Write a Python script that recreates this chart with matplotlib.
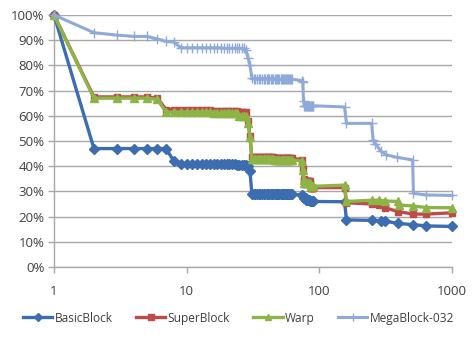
import matplotlib
matplotlib.use('Agg')
import matplotlib.pyplot as plt
from matplotlib.ticker import FuncFormatter, NullLocator

plt.rcParams['font.family'] = ['Open Sans', 'DejaVu Sans']

# ---------------- data ----------------
SERIES_NAMES = ['BasicBlock', 'SuperBlock', 'Warp', 'MegaBlock-032']
X_TICKS = [1, 10, 100, 1000]
X_TICK_LABELS = ['1', '10', '100', '1000']
Y_TICKS = [0, 10, 20, 30, 40, 50, 60, 70, 80, 90, 100]

# integer sample points (dense region)
X_DENSE = list(range(1, 63)) + list(range(74, 91))

BASIC_DENSE = [100,
               47, 47, 47, 47, 47, 47,
               42,
               41, 41, 41, 41, 41, 41, 40.8, 40.8, 40.8, 40.8, 40.8, 40.8, 40.7, 40.7, 40.7, 40.6, 40.6, 40.6, 40.5,
               40.5, 40, 38,
               29, 29, 29, 29, 29, 29, 29, 29, 29, 29, 29, 29, 29, 29, 29, 29,
               28.9, 28.9, 28.9, 28.9, 28.9, 28.9, 28.9, 28.9, 28.9, 28.9, 28.9, 28.9, 28.9, 28.9, 28.9, 28.9,
               28.5, 28, 27.5, 27.5, 27.5, 27.5, 26.6, 26.6, 26.6, 26.6, 26.6, 26, 26, 26, 26, 26, 26]
BASIC_X_TAIL = [155, 160, 250, 290, 315, 390, 510, 640, 1000]
BASIC_Y_TAIL = [25.9, 18.7, 18.5, 18.3, 18.2, 17.3, 16.8, 16.3, 16.1]

SUPER_DENSE = [100,
               67.5, 67.5, 67.5, 67.5, 67, 62.5,
               62.5, 62.5, 62.5, 62.5, 62.5, 62.5, 62.5, 62.5,
               62, 62, 62, 62, 62, 62, 62, 62, 62,
               61.5, 61.5, 61.5, 61.5,
               58, 52,
               43.5, 43.5, 43.5, 43.5, 43.5, 43.5, 43.5, 43.5, 43.5, 43.5, 43.5, 43.5, 43.5, 43.5, 43.5,
               43.2, 43.2, 43.2, 43.2, 43.2, 43.2, 43.2, 43.2, 43.2, 43.2, 43.2, 43.2, 43.2, 43.2, 43.2, 43.2, 43.2,
               42.5, 39, 35, 34, 34, 34, 34, 34, 34, 34, 34, 34, 31.5, 31.5, 31.5, 31.5, 31.5]
SUPER_X_TAIL = [155, 160, 250, 280, 315, 390, 510, 640, 1000]
SUPER_Y_TAIL = [31.5, 25.5, 25.0, 24.5, 23.5, 22.0, 21.0, 21.0, 21.5]

WARP_DENSE = [100,
              67, 67, 67, 67, 66.5, 61.5,
              61.5, 61.5, 61.5, 61.5, 61.5, 61.5, 61.5, 61.5,
              61, 61, 61, 61, 61, 61, 61, 61, 61,
              60, 60, 60, 60,
              57, 51.5,
              42.8, 42.8, 42.8, 42.8, 42.8, 42.8, 42.8, 42.8, 42.8, 42.8, 42.8, 42.8, 42.8, 42.8, 42.8,
              42.5, 42.5, 42.5, 42.5, 42.5, 42.5, 42.5, 42.5, 42.5, 42.5, 42.5, 42.5, 42.5, 42.5, 42.5, 42.5, 42.5,
              42, 38.5, 34.5, 33.5, 33.5, 33.5, 33.5, 33.5, 33.5, 33.5, 33.5, 33.5, 32, 32, 32, 32, 32]
WARP_X_TAIL = [155, 160, 250, 280, 315, 390, 400, 510, 640, 1000]
WARP_Y_TAIL = [32.5, 26.0, 26.5, 26.5, 26.2, 26.0, 24.6, 24.2, 23.6, 23.5]

MEGA_DENSE = [100, 93, 92, 91.5, 91.5, 90.5, 89.5, 89.3,
              87, 87, 87, 87, 87, 87, 87, 87, 87, 87,
              86.8, 86.8, 86.8, 86.8, 86.8, 86.8, 86.8, 86.8, 86.8,
              86, 83, 80, 75,
              74.8, 74.8, 74.8, 74.8, 74.8, 74.8, 74.8, 74.8, 74.8, 74.8, 74.8, 74.8, 74.8, 74.8, 74.8,
              74.5, 74.5, 74.5, 74.5, 74.5, 74.5, 74.5, 74.5, 74.5, 74.5, 74.5, 74.5, 74.5, 74.5, 74.5, 74.5,
              74, 73.5, 66, 64, 64, 64, 64, 64, 64, 64, 64, 64, 64, 64, 64, 64, 64]
MEGA_X_TAIL = [155, 160, 248, 254, 265, 290, 320, 385, 505, 512, 640, 1000]
MEGA_Y_TAIL = [63.5, 57.0, 57.0, 50.5, 49.0, 46.0, 44.5, 43.5, 42.5, 29.2, 28.6, 28.4]

# ---------------- figure ----------------
W, H = 474, 337
fig = plt.figure(figsize=(W / 100, H / 100), dpi=100)
ax = fig.add_axes([54 / W, 1 - 267 / H, (452 - 54) / W, (267 - 15) / H])

styles = [
    ('#3C6DB0', 'D', 5.0, 1.0, 2.4),
    ('#BE4B48', 's', 5.0, 1.0, 2.4),
    ('#8DB446', '^', 5.5, 1.0, 2.4),
    ('#8FAAD8', '+', 7.5, 1.0, 2.2),
]
data = [
    (X_DENSE + BASIC_X_TAIL, BASIC_DENSE + BASIC_Y_TAIL),
    (X_DENSE + SUPER_X_TAIL, SUPER_DENSE + SUPER_Y_TAIL),
    (X_DENSE + WARP_X_TAIL, WARP_DENSE + WARP_Y_TAIL),
    (X_DENSE + MEGA_X_TAIL, MEGA_DENSE + MEGA_Y_TAIL),
]

for name, (xs, ys), (col, mk, ms, mew, lw) in zip(SERIES_NAMES, data, styles):
    ax.plot(xs, ys, color=col, lw=lw, marker=mk, ms=ms, mfc=col, mec=col,
            mew=mew, label=name, clip_on=False, zorder=3)

ax.set_xscale('log')
ax.set_xlim(1, 1000)
ax.set_ylim(0, 100)
ax.set_xticks(X_TICKS)
ax.set_xticklabels(X_TICK_LABELS)
ax.xaxis.set_minor_locator(NullLocator())
ax.set_yticks(Y_TICKS)
ax.yaxis.set_major_formatter(FuncFormatter(lambda v, p: f'{int(v)}%'))

ax.grid(axis='y', color='#A8A8A8', lw=1.0)
ax.grid(axis='x', visible=False)
ax.set_axisbelow(True)
for s in ['top', 'right']:
    ax.spines[s].set_visible(False)
for s in ['left', 'bottom']:
    ax.spines[s].set_color('#A8A8A8')
    ax.spines[s].set_linewidth(1.0)
ax.tick_params(axis='both', colors='#A8A8A8', labelcolor='#404040',
               length=4, width=1, labelsize=9.5)
ax.tick_params(axis='x', pad=9)
ax.tick_params(axis='y', pad=3)

fig.legend(loc='center', bbox_to_anchor=(0.503, 0.056), ncol=4, frameon=False,
           fontsize=8.6, handlelength=2.5, handletextpad=0.2, columnspacing=1.9,
           markerscale=0.75, labelcolor='#404040')

fig.savefig('out.png', dpi=100)
